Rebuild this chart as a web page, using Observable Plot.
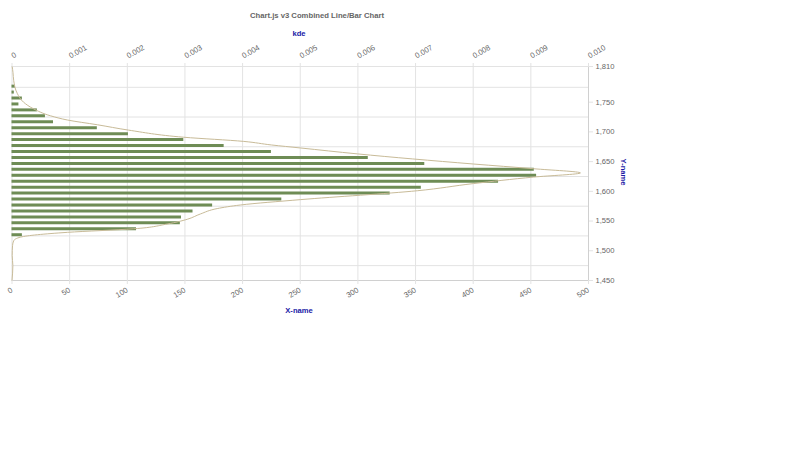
<!DOCTYPE html>
<html>
<head>
<meta charset="utf-8">
<script src="https://cdn.jsdelivr.net/npm/d3@7"></script>
<script src="https://cdn.jsdelivr.net/npm/@observablehq/plot@0.6"></script>
<style>
  html, body { margin: 0; padding: 0; background: #fff; }
  #wrap { position: relative; width: 800px; height: 450px; font-family: "Liberation Sans", Arial, sans-serif; }
  .lbl { position: absolute; transform: translate(-50%, -50%); white-space: nowrap; font-weight: bold; }
  #title { left: 317px; top: 15px; font-size: 7.7px; color: #666; }
  #kde { left: 299px; top: 33px; font-size: 7.6px; color: #1a1aa6; }
  #xname { left: 299px; top: 310px; font-size: 7.6px; color: #1a1aa6; }
  #yname { left: 623px; top: 172px; font-size: 7.6px; color: #1a1aa6; transform: translate(-50%, -50%) rotate(90deg); }
</style>
</head>
<body>
<div id="wrap">
  <div id="chart"></div>
  <div class="lbl" id="title">Chart.js v3 Combined Line/Bar Chart</div>
  <div class="lbl" id="kde">kde</div>
  <div class="lbl" id="xname">X-name</div>
  <div class="lbl" id="yname">Y-name</div>
</div>
<script>
// Histogram bins (Y-name) and counts (X-name)
const binCenters = [1777,1767,1757,1747,1737,1727,1717,1707,1697,1687,1677,1667,1657,1647,1637,1627,1617,1607,1597,1587,1577,1567,1557,1547,1537,1527];
const binCounts  = [3,2,9,6,22,29,36,74,101,149,184,225,309,358,453,455,422,355,328,234,174,157,147,146,108,9];

// KDE curve samples (Y-name value, kde density)
const kdeY = [1810,1800,1786,1765,1750,1739,1727,1720,1712,1703,1691,1684,1678,1673,1663,1646,1638,1631,1624,1613,1601,1586,1577,1571,1562,1553,1545,1537,1531,1523,1517,1509,1492,1475,1450];
const kdeV = [0.000003,0.000017,0.00003,0.00009,0.0002,0.00037,0.00067,0.00096,0.00148,0.00202,0.00298,0.00402,0.0045,0.0050,0.00599,0.0080,0.00905,0.00986,0.00905,0.0080,0.00703,0.0050,0.00396,0.00356,0.00327,0.00304,0.00269,0.00211,0.00096,0.00015,0.00003,0.00001,0.000003,0.000015,0];

// Axis ticks
const xTicks = [0,50,100,150,200,250,300,350,400,450,500];
const kdeTickLabels = ["0","0.001","0.002","0.003","0.004","0.005","0.006","0.007","0.008","0.009","0.010"];
const yTicks = [1450,1500,1550,1600,1650,1700,1750,1810];
const yGrid = [1475,1525,1575,1625,1675,1725,1775,1810];

const bars = binCenters.map((b, i) => ({bin: b, count: binCounts[i]}));
const kdeScale = 500 / 0.010; // top axis 0..0.010 shares the x range 0..500
const kde = kdeY.map((y, i) => ({y, kde: kdeV[i]}));

const barColor = "#6e8c55";
const lineColor = "#c8bb98";
const gridColor = "#e3e3e3";

const chart = Plot.plot({
  width: 800,
  height: 450,
  marginLeft: 11.5,
  marginRight: 212,
  marginTop: 66,
  marginBottom: 170,
  style: {fontFamily: "'Liberation Sans', Arial, sans-serif", fontSize: "7.6px", color: "#666", background: "#fff"},
  x: {domain: [0, 500], label: null},
  y: {domain: [1450, 1810], label: null},
  marks: [
    Plot.gridX(xTicks, {stroke: gridColor, strokeOpacity: 1}),
    Plot.gridY(yGrid, {stroke: gridColor, strokeOpacity: 1}),
    Plot.ruleY([1450], {stroke: "#d0d0d0"}),
    Plot.ruleX([500], {stroke: "#d0d0d0"}),
    Plot.ruleY(bars, {y: "bin", x1: 0, x2: "count", stroke: barColor, strokeWidth: 3}),
    Plot.line(kde, {x: d => d.kde * kdeScale, y: "y", curve: "monotone-y", stroke: lineColor, strokeWidth: 1}),
    Plot.axisX(xTicks, {anchor: "bottom", tickRotate: -30, tickSize: 4, stroke: gridColor, tickPadding: 5, fill: "#666", label: null}),
    Plot.axisX(xTicks, {anchor: "top", tickRotate: -30, tickSize: 4, stroke: gridColor, tickPadding: 6, fill: "#666", label: null,
      tickFormat: (d) => kdeTickLabels[xTicks.indexOf(d)]}),
    Plot.axisY(yTicks, {anchor: "right", tickSize: 4, stroke: gridColor, tickPadding: 3, fill: "#666", label: null,
      tickFormat: d3.format(",")})
  ]
});
document.getElementById("chart").appendChild(chart);
</script>
</body>
</html>
